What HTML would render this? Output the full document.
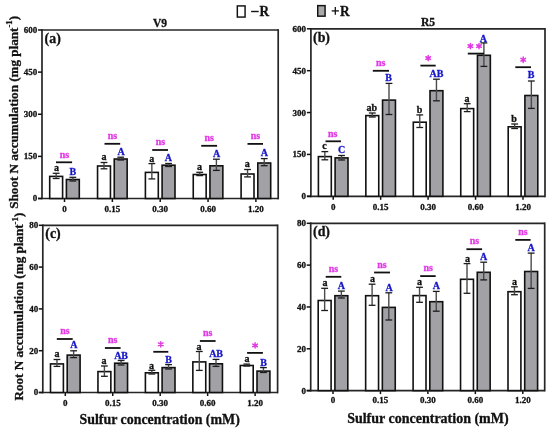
<!DOCTYPE html>
<html><head><meta charset="utf-8"><style>
html,body{margin:0;padding:0;background:#fff;width:550px;height:429px;overflow:hidden}
#w{width:550px;height:429px} svg{display:block;will-change:transform;font-family:"Liberation Serif", serif;font-weight:bold} text{stroke-width:0.3px}
</style></head><body><div id="w">
<svg width="550" height="429" viewBox="0 0 550 429">
<rect width="550" height="429" fill="#fff"/>
<g>
<line x1="42.00" y1="30.00" x2="278.20" y2="30.00" stroke="#262626" stroke-width="1.7"/>
<line x1="278.20" y1="29.15" x2="278.20" y2="199.35" stroke="#262626" stroke-width="1.7"/>
<line x1="42.00" y1="29.15" x2="42.00" y2="199.35" stroke="#262626" stroke-width="1.7"/>
<line x1="38.00" y1="198.50" x2="278.20" y2="198.50" stroke="#262626" stroke-width="1.7"/>
<line x1="38.00" y1="198.50" x2="42.00" y2="198.50" stroke="#111" stroke-width="1.5"/>
<text x="37.20" y="201.45" font-size="9" fill="#111" stroke="#111" text-anchor="end" >0</text>
<line x1="38.00" y1="156.38" x2="42.00" y2="156.38" stroke="#111" stroke-width="1.5"/>
<text x="37.20" y="159.32" font-size="9" fill="#111" stroke="#111" text-anchor="end" >150</text>
<line x1="38.00" y1="114.25" x2="42.00" y2="114.25" stroke="#111" stroke-width="1.5"/>
<text x="37.20" y="117.20" font-size="9" fill="#111" stroke="#111" text-anchor="end" >300</text>
<line x1="38.00" y1="72.12" x2="42.00" y2="72.12" stroke="#111" stroke-width="1.5"/>
<text x="37.20" y="75.07" font-size="9" fill="#111" stroke="#111" text-anchor="end" >450</text>
<line x1="38.00" y1="30.00" x2="42.00" y2="30.00" stroke="#111" stroke-width="1.5"/>
<text x="37.20" y="32.95" font-size="9" fill="#111" stroke="#111" text-anchor="end" >600</text>
<text x="44.60" y="42.80" font-size="13.9" fill="#111" stroke="#111" text-anchor="start" >(a)</text>
<line x1="64.50" y1="198.50" x2="64.50" y2="202.00" stroke="#111" stroke-width="1.5"/>
<text x="64.50" y="212.15" font-size="9" fill="#111" stroke="#111" text-anchor="middle" >0</text>
<rect x="49.70" y="176.40" width="12.90" height="22.10" fill="#fff" stroke="#111" stroke-width="1.6"/>
<rect x="66.40" y="179.50" width="12.90" height="19.00" fill="#a1a1a6" stroke="#111" stroke-width="1.6"/>
<line x1="56.15" y1="173.30" x2="56.15" y2="178.50" stroke="#4a4a4a" stroke-width="1.4"/>
<line x1="52.75" y1="173.30" x2="59.55" y2="173.30" stroke="#1c1c1c" stroke-width="1.3"/>
<line x1="52.75" y1="178.50" x2="59.55" y2="178.50" stroke="#1c1c1c" stroke-width="1.3"/>
<line x1="72.85" y1="177.30" x2="72.85" y2="181.00" stroke="#4a4a4a" stroke-width="1.4"/>
<line x1="69.45" y1="177.30" x2="76.25" y2="177.30" stroke="#1c1c1c" stroke-width="1.3"/>
<line x1="69.45" y1="181.00" x2="76.25" y2="181.00" stroke="#1c1c1c" stroke-width="1.3"/>
<text x="56.40" y="171.19" font-size="10.0" fill="#111" stroke="#111" text-anchor="middle" >a</text>
<text x="72.90" y="175.18" font-size="10.0" fill="#1515c8" stroke="#1515c8" text-anchor="middle" >B</text>
<line x1="56.00" y1="162.30" x2="72.10" y2="162.30" stroke="#111" stroke-width="1.8"/>
<text x="64.50" y="157.59" font-size="10.0" fill="#e03ae4" stroke="#e03ae4" text-anchor="middle" >ns</text>
<line x1="112.35" y1="198.50" x2="112.35" y2="202.00" stroke="#111" stroke-width="1.5"/>
<text x="112.35" y="212.15" font-size="9" fill="#111" stroke="#111" text-anchor="middle" >0.15</text>
<rect x="97.55" y="166.00" width="12.90" height="32.50" fill="#fff" stroke="#111" stroke-width="1.6"/>
<rect x="114.25" y="159.00" width="12.90" height="39.50" fill="#a1a1a6" stroke="#111" stroke-width="1.6"/>
<line x1="104.00" y1="162.50" x2="104.00" y2="168.80" stroke="#4a4a4a" stroke-width="1.4"/>
<line x1="100.60" y1="162.50" x2="107.40" y2="162.50" stroke="#1c1c1c" stroke-width="1.3"/>
<line x1="100.60" y1="168.80" x2="107.40" y2="168.80" stroke="#1c1c1c" stroke-width="1.3"/>
<line x1="120.70" y1="157.20" x2="120.70" y2="160.00" stroke="#4a4a4a" stroke-width="1.4"/>
<line x1="117.30" y1="157.20" x2="124.10" y2="157.20" stroke="#1c1c1c" stroke-width="1.3"/>
<line x1="117.30" y1="160.00" x2="124.10" y2="160.00" stroke="#1c1c1c" stroke-width="1.3"/>
<text x="104.00" y="160.29" font-size="10.0" fill="#111" stroke="#111" text-anchor="middle" >a</text>
<text x="121.00" y="154.97" font-size="10.0" fill="#1515c8" stroke="#1515c8" text-anchor="middle" >A</text>
<line x1="104.50" y1="143.80" x2="120.20" y2="143.80" stroke="#111" stroke-width="1.8"/>
<text x="112.40" y="139.09" font-size="10.0" fill="#e03ae4" stroke="#e03ae4" text-anchor="middle" >ns</text>
<line x1="160.20" y1="198.50" x2="160.20" y2="202.00" stroke="#111" stroke-width="1.5"/>
<text x="160.20" y="212.15" font-size="9" fill="#111" stroke="#111" text-anchor="middle" >0.30</text>
<rect x="145.40" y="172.40" width="12.90" height="26.10" fill="#fff" stroke="#111" stroke-width="1.6"/>
<rect x="162.10" y="165.20" width="12.90" height="33.30" fill="#a1a1a6" stroke="#111" stroke-width="1.6"/>
<line x1="151.85" y1="163.60" x2="151.85" y2="178.90" stroke="#4a4a4a" stroke-width="1.4"/>
<line x1="148.45" y1="163.60" x2="155.25" y2="163.60" stroke="#1c1c1c" stroke-width="1.3"/>
<line x1="148.45" y1="178.90" x2="155.25" y2="178.90" stroke="#1c1c1c" stroke-width="1.3"/>
<line x1="168.55" y1="163.50" x2="168.55" y2="166.50" stroke="#4a4a4a" stroke-width="1.4"/>
<line x1="165.15" y1="163.50" x2="171.95" y2="163.50" stroke="#1c1c1c" stroke-width="1.3"/>
<line x1="165.15" y1="166.50" x2="171.95" y2="166.50" stroke="#1c1c1c" stroke-width="1.3"/>
<text x="151.70" y="162.19" font-size="10.0" fill="#111" stroke="#111" text-anchor="middle" >a</text>
<text x="168.40" y="161.38" font-size="10.0" fill="#1515c8" stroke="#1515c8" text-anchor="middle" >A</text>
<line x1="152.20" y1="150.00" x2="168.00" y2="150.00" stroke="#111" stroke-width="1.8"/>
<text x="160.40" y="145.29" font-size="10.0" fill="#e03ae4" stroke="#e03ae4" text-anchor="middle" >ns</text>
<line x1="208.05" y1="198.50" x2="208.05" y2="202.00" stroke="#111" stroke-width="1.5"/>
<text x="208.05" y="212.15" font-size="9" fill="#111" stroke="#111" text-anchor="middle" >0.60</text>
<rect x="193.25" y="174.50" width="12.90" height="24.00" fill="#fff" stroke="#111" stroke-width="1.6"/>
<rect x="209.95" y="165.80" width="12.90" height="32.70" fill="#a1a1a6" stroke="#111" stroke-width="1.6"/>
<line x1="199.70" y1="172.30" x2="199.70" y2="175.60" stroke="#4a4a4a" stroke-width="1.4"/>
<line x1="196.30" y1="172.30" x2="203.10" y2="172.30" stroke="#1c1c1c" stroke-width="1.3"/>
<line x1="196.30" y1="175.60" x2="203.10" y2="175.60" stroke="#1c1c1c" stroke-width="1.3"/>
<line x1="216.40" y1="159.20" x2="216.40" y2="170.40" stroke="#4a4a4a" stroke-width="1.4"/>
<line x1="213.00" y1="159.20" x2="219.80" y2="159.20" stroke="#1c1c1c" stroke-width="1.3"/>
<line x1="213.00" y1="170.40" x2="219.80" y2="170.40" stroke="#1c1c1c" stroke-width="1.3"/>
<text x="199.50" y="169.69" font-size="10.0" fill="#111" stroke="#111" text-anchor="middle" >a</text>
<text x="216.50" y="157.47" font-size="10.0" fill="#1515c8" stroke="#1515c8" text-anchor="middle" >A</text>
<line x1="201.20" y1="145.80" x2="217.10" y2="145.80" stroke="#111" stroke-width="1.8"/>
<text x="209.30" y="141.09" font-size="10.0" fill="#e03ae4" stroke="#e03ae4" text-anchor="middle" >ns</text>
<line x1="255.90" y1="198.50" x2="255.90" y2="202.00" stroke="#111" stroke-width="1.5"/>
<text x="255.90" y="212.15" font-size="9" fill="#111" stroke="#111" text-anchor="middle" >1.20</text>
<rect x="241.10" y="174.00" width="12.90" height="24.50" fill="#fff" stroke="#111" stroke-width="1.6"/>
<rect x="257.80" y="163.00" width="12.90" height="35.50" fill="#a1a1a6" stroke="#111" stroke-width="1.6"/>
<line x1="247.55" y1="169.50" x2="247.55" y2="176.90" stroke="#4a4a4a" stroke-width="1.4"/>
<line x1="244.15" y1="169.50" x2="250.95" y2="169.50" stroke="#1c1c1c" stroke-width="1.3"/>
<line x1="244.15" y1="176.90" x2="250.95" y2="176.90" stroke="#1c1c1c" stroke-width="1.3"/>
<line x1="264.25" y1="158.60" x2="264.25" y2="165.70" stroke="#4a4a4a" stroke-width="1.4"/>
<line x1="260.85" y1="158.60" x2="267.65" y2="158.60" stroke="#1c1c1c" stroke-width="1.3"/>
<line x1="260.85" y1="165.70" x2="267.65" y2="165.70" stroke="#1c1c1c" stroke-width="1.3"/>
<text x="247.30" y="167.19" font-size="10.0" fill="#111" stroke="#111" text-anchor="middle" >a</text>
<text x="264.30" y="155.97" font-size="10.0" fill="#1515c8" stroke="#1515c8" text-anchor="middle" >A</text>
<line x1="247.50" y1="143.90" x2="263.00" y2="143.90" stroke="#111" stroke-width="1.8"/>
<text x="255.50" y="139.19" font-size="10.0" fill="#e03ae4" stroke="#e03ae4" text-anchor="middle" >ns</text>
<line x1="310.90" y1="28.80" x2="545.00" y2="28.80" stroke="#262626" stroke-width="1.7"/>
<line x1="545.00" y1="27.95" x2="545.00" y2="197.15" stroke="#262626" stroke-width="1.7"/>
<line x1="310.90" y1="27.95" x2="310.90" y2="197.15" stroke="#262626" stroke-width="1.7"/>
<line x1="306.90" y1="196.30" x2="545.00" y2="196.30" stroke="#262626" stroke-width="1.7"/>
<line x1="306.90" y1="196.30" x2="310.90" y2="196.30" stroke="#111" stroke-width="1.5"/>
<text x="305.90" y="199.25" font-size="9" fill="#111" stroke="#111" text-anchor="end" >0</text>
<line x1="306.90" y1="154.43" x2="310.90" y2="154.43" stroke="#111" stroke-width="1.5"/>
<text x="305.90" y="157.37" font-size="9" fill="#111" stroke="#111" text-anchor="end" >150</text>
<line x1="306.90" y1="112.55" x2="310.90" y2="112.55" stroke="#111" stroke-width="1.5"/>
<text x="305.90" y="115.50" font-size="9" fill="#111" stroke="#111" text-anchor="end" >300</text>
<line x1="306.90" y1="70.68" x2="310.90" y2="70.68" stroke="#111" stroke-width="1.5"/>
<text x="305.90" y="73.62" font-size="9" fill="#111" stroke="#111" text-anchor="end" >450</text>
<line x1="306.90" y1="28.80" x2="310.90" y2="28.80" stroke="#111" stroke-width="1.5"/>
<text x="305.90" y="31.75" font-size="9" fill="#111" stroke="#111" text-anchor="end" >600</text>
<text x="313.00" y="41.70" font-size="13.9" fill="#111" stroke="#111" text-anchor="start" >(b)</text>
<line x1="333.20" y1="196.30" x2="333.20" y2="199.80" stroke="#111" stroke-width="1.5"/>
<text x="333.20" y="209.85" font-size="9" fill="#111" stroke="#111" text-anchor="middle" >0</text>
<rect x="318.40" y="156.60" width="12.90" height="39.70" fill="#fff" stroke="#111" stroke-width="1.6"/>
<rect x="335.10" y="157.90" width="12.90" height="38.40" fill="#a1a1a6" stroke="#111" stroke-width="1.6"/>
<line x1="324.85" y1="151.60" x2="324.85" y2="159.80" stroke="#4a4a4a" stroke-width="1.4"/>
<line x1="321.45" y1="151.60" x2="328.25" y2="151.60" stroke="#1c1c1c" stroke-width="1.3"/>
<line x1="321.45" y1="159.80" x2="328.25" y2="159.80" stroke="#1c1c1c" stroke-width="1.3"/>
<line x1="341.55" y1="155.50" x2="341.55" y2="160.00" stroke="#4a4a4a" stroke-width="1.4"/>
<line x1="338.15" y1="155.50" x2="344.95" y2="155.50" stroke="#1c1c1c" stroke-width="1.3"/>
<line x1="338.15" y1="160.00" x2="344.95" y2="160.00" stroke="#1c1c1c" stroke-width="1.3"/>
<text x="324.50" y="149.49" font-size="10.0" fill="#111" stroke="#111" text-anchor="middle" >c</text>
<text x="341.50" y="153.18" font-size="10.0" fill="#1515c8" stroke="#1515c8" text-anchor="middle" >C</text>
<line x1="325.50" y1="141.30" x2="341.00" y2="141.30" stroke="#111" stroke-width="1.8"/>
<text x="332.70" y="136.59" font-size="10.0" fill="#e03ae4" stroke="#e03ae4" text-anchor="middle" >ns</text>
<line x1="380.65" y1="196.30" x2="380.65" y2="199.80" stroke="#111" stroke-width="1.5"/>
<text x="380.65" y="209.85" font-size="9" fill="#111" stroke="#111" text-anchor="middle" >0.15</text>
<rect x="365.85" y="115.60" width="12.90" height="80.70" fill="#fff" stroke="#111" stroke-width="1.6"/>
<rect x="382.55" y="100.10" width="12.90" height="96.20" fill="#a1a1a6" stroke="#111" stroke-width="1.6"/>
<line x1="372.30" y1="113.00" x2="372.30" y2="117.00" stroke="#4a4a4a" stroke-width="1.4"/>
<line x1="368.90" y1="113.00" x2="375.70" y2="113.00" stroke="#1c1c1c" stroke-width="1.3"/>
<line x1="368.90" y1="117.00" x2="375.70" y2="117.00" stroke="#1c1c1c" stroke-width="1.3"/>
<line x1="389.00" y1="83.40" x2="389.00" y2="114.50" stroke="#4a4a4a" stroke-width="1.4"/>
<line x1="385.60" y1="83.40" x2="392.40" y2="83.40" stroke="#1c1c1c" stroke-width="1.3"/>
<line x1="385.60" y1="114.50" x2="392.40" y2="114.50" stroke="#1c1c1c" stroke-width="1.3"/>
<text x="371.80" y="111.20" font-size="10.0" fill="#111" stroke="#111" text-anchor="middle" >ab</text>
<text x="388.60" y="81.08" font-size="10.0" fill="#1515c8" stroke="#1515c8" text-anchor="middle" >B</text>
<line x1="372.80" y1="70.80" x2="389.00" y2="70.80" stroke="#111" stroke-width="1.8"/>
<text x="380.80" y="66.09" font-size="10.0" fill="#e03ae4" stroke="#e03ae4" text-anchor="middle" >ns</text>
<line x1="428.10" y1="196.30" x2="428.10" y2="199.80" stroke="#111" stroke-width="1.5"/>
<text x="428.10" y="209.85" font-size="9" fill="#111" stroke="#111" text-anchor="middle" >0.30</text>
<rect x="413.30" y="122.20" width="12.90" height="74.10" fill="#fff" stroke="#111" stroke-width="1.6"/>
<rect x="430.00" y="90.70" width="12.90" height="105.60" fill="#a1a1a6" stroke="#111" stroke-width="1.6"/>
<line x1="419.75" y1="114.90" x2="419.75" y2="127.50" stroke="#4a4a4a" stroke-width="1.4"/>
<line x1="416.35" y1="114.90" x2="423.15" y2="114.90" stroke="#1c1c1c" stroke-width="1.3"/>
<line x1="416.35" y1="127.50" x2="423.15" y2="127.50" stroke="#1c1c1c" stroke-width="1.3"/>
<line x1="436.45" y1="79.20" x2="436.45" y2="100.80" stroke="#4a4a4a" stroke-width="1.4"/>
<line x1="433.05" y1="79.20" x2="439.85" y2="79.20" stroke="#1c1c1c" stroke-width="1.3"/>
<line x1="433.05" y1="100.80" x2="439.85" y2="100.80" stroke="#1c1c1c" stroke-width="1.3"/>
<text x="419.60" y="113.18" font-size="10.0" fill="#111" stroke="#111" text-anchor="middle" >b</text>
<text x="436.40" y="77.28" font-size="10.0" fill="#1515c8" stroke="#1515c8" text-anchor="middle" >AB</text>
<line x1="420.40" y1="65.60" x2="435.70" y2="65.60" stroke="#111" stroke-width="1.8"/>
<path d="M428.20 55.40L428.20 60.80M425.86 56.75L430.54 59.45M430.54 56.75L425.86 59.45" stroke="#e03ae4" stroke-width="1.45" stroke-linecap="round" fill="none"/>
<line x1="475.55" y1="196.30" x2="475.55" y2="199.80" stroke="#111" stroke-width="1.5"/>
<text x="475.55" y="209.85" font-size="9" fill="#111" stroke="#111" text-anchor="middle" >0.60</text>
<rect x="460.75" y="108.60" width="12.90" height="87.70" fill="#fff" stroke="#111" stroke-width="1.6"/>
<rect x="477.45" y="55.30" width="12.90" height="141.00" fill="#a1a1a6" stroke="#111" stroke-width="1.6"/>
<line x1="467.20" y1="103.70" x2="467.20" y2="111.60" stroke="#4a4a4a" stroke-width="1.4"/>
<line x1="463.80" y1="103.70" x2="470.60" y2="103.70" stroke="#1c1c1c" stroke-width="1.3"/>
<line x1="463.80" y1="111.60" x2="470.60" y2="111.60" stroke="#1c1c1c" stroke-width="1.3"/>
<line x1="483.90" y1="42.90" x2="483.90" y2="66.40" stroke="#4a4a4a" stroke-width="1.4"/>
<line x1="480.50" y1="42.90" x2="487.30" y2="42.90" stroke="#1c1c1c" stroke-width="1.3"/>
<line x1="480.50" y1="66.40" x2="487.30" y2="66.40" stroke="#1c1c1c" stroke-width="1.3"/>
<text x="467.00" y="101.50" font-size="10.0" fill="#111" stroke="#111" text-anchor="middle" >a</text>
<text x="483.40" y="41.67" font-size="10.0" fill="#1515c8" stroke="#1515c8" text-anchor="middle" >A</text>
<line x1="467.80" y1="53.60" x2="484.00" y2="53.60" stroke="#111" stroke-width="1.8"/>
<path d="M470.40 43.40L470.40 48.80M468.06 44.75L472.74 47.45M472.74 44.75L468.06 47.45" stroke="#e03ae4" stroke-width="1.45" stroke-linecap="round" fill="none"/>
<path d="M479.00 43.40L479.00 48.80M476.66 44.75L481.34 47.45M481.34 44.75L476.66 47.45" stroke="#e03ae4" stroke-width="1.45" stroke-linecap="round" fill="none"/>
<line x1="523.00" y1="196.30" x2="523.00" y2="199.80" stroke="#111" stroke-width="1.5"/>
<text x="523.00" y="209.85" font-size="9" fill="#111" stroke="#111" text-anchor="middle" >1.20</text>
<rect x="508.20" y="126.80" width="12.90" height="69.50" fill="#fff" stroke="#111" stroke-width="1.6"/>
<rect x="524.90" y="95.50" width="12.90" height="100.80" fill="#a1a1a6" stroke="#111" stroke-width="1.6"/>
<line x1="514.65" y1="124.00" x2="514.65" y2="128.50" stroke="#4a4a4a" stroke-width="1.4"/>
<line x1="511.25" y1="124.00" x2="518.05" y2="124.00" stroke="#1c1c1c" stroke-width="1.3"/>
<line x1="511.25" y1="128.50" x2="518.05" y2="128.50" stroke="#1c1c1c" stroke-width="1.3"/>
<line x1="531.35" y1="81.00" x2="531.35" y2="108.40" stroke="#4a4a4a" stroke-width="1.4"/>
<line x1="527.95" y1="81.00" x2="534.75" y2="81.00" stroke="#1c1c1c" stroke-width="1.3"/>
<line x1="527.95" y1="108.40" x2="534.75" y2="108.40" stroke="#1c1c1c" stroke-width="1.3"/>
<text x="514.00" y="121.98" font-size="10.0" fill="#111" stroke="#111" text-anchor="middle" >b</text>
<text x="531.00" y="78.28" font-size="10.0" fill="#1515c8" stroke="#1515c8" text-anchor="middle" >B</text>
<line x1="515.30" y1="67.20" x2="531.00" y2="67.20" stroke="#111" stroke-width="1.8"/>
<path d="M523.20 57.00L523.20 62.40M520.86 58.35L525.54 61.05M525.54 58.35L520.86 61.05" stroke="#e03ae4" stroke-width="1.45" stroke-linecap="round" fill="none"/>
<line x1="42.80" y1="225.30" x2="277.60" y2="225.30" stroke="#262626" stroke-width="1.7"/>
<line x1="277.60" y1="224.45" x2="277.60" y2="393.35" stroke="#262626" stroke-width="1.7"/>
<line x1="42.80" y1="224.45" x2="42.80" y2="393.35" stroke="#262626" stroke-width="1.7"/>
<line x1="38.80" y1="392.50" x2="277.60" y2="392.50" stroke="#262626" stroke-width="1.7"/>
<line x1="38.80" y1="392.50" x2="42.80" y2="392.50" stroke="#111" stroke-width="1.5"/>
<text x="38.20" y="395.45" font-size="9" fill="#111" stroke="#111" text-anchor="end" >0</text>
<line x1="38.80" y1="350.70" x2="42.80" y2="350.70" stroke="#111" stroke-width="1.5"/>
<text x="38.20" y="353.65" font-size="9" fill="#111" stroke="#111" text-anchor="end" >20</text>
<line x1="38.80" y1="308.90" x2="42.80" y2="308.90" stroke="#111" stroke-width="1.5"/>
<text x="38.20" y="311.85" font-size="9" fill="#111" stroke="#111" text-anchor="end" >40</text>
<line x1="38.80" y1="267.10" x2="42.80" y2="267.10" stroke="#111" stroke-width="1.5"/>
<text x="38.20" y="270.05" font-size="9" fill="#111" stroke="#111" text-anchor="end" >60</text>
<line x1="38.80" y1="225.30" x2="42.80" y2="225.30" stroke="#111" stroke-width="1.5"/>
<text x="38.20" y="228.25" font-size="9" fill="#111" stroke="#111" text-anchor="end" >80</text>
<text x="45.30" y="237.80" font-size="13.9" fill="#111" stroke="#111" text-anchor="start" >(c)</text>
<line x1="65.30" y1="392.50" x2="65.30" y2="396.00" stroke="#111" stroke-width="1.5"/>
<text x="65.30" y="406.25" font-size="9" fill="#111" stroke="#111" text-anchor="middle" >0</text>
<rect x="50.50" y="363.90" width="12.90" height="28.60" fill="#fff" stroke="#111" stroke-width="1.6"/>
<rect x="67.20" y="355.10" width="12.90" height="37.40" fill="#a1a1a6" stroke="#111" stroke-width="1.6"/>
<line x1="56.95" y1="359.50" x2="56.95" y2="366.40" stroke="#4a4a4a" stroke-width="1.4"/>
<line x1="53.55" y1="359.50" x2="60.35" y2="359.50" stroke="#1c1c1c" stroke-width="1.3"/>
<line x1="53.55" y1="366.40" x2="60.35" y2="366.40" stroke="#1c1c1c" stroke-width="1.3"/>
<line x1="73.65" y1="350.80" x2="73.65" y2="357.60" stroke="#4a4a4a" stroke-width="1.4"/>
<line x1="70.25" y1="350.80" x2="77.05" y2="350.80" stroke="#1c1c1c" stroke-width="1.3"/>
<line x1="70.25" y1="357.60" x2="77.05" y2="357.60" stroke="#1c1c1c" stroke-width="1.3"/>
<text x="57.10" y="357.00" font-size="10.0" fill="#111" stroke="#111" text-anchor="middle" >a</text>
<text x="73.80" y="348.27" font-size="10.0" fill="#1515c8" stroke="#1515c8" text-anchor="middle" >A</text>
<line x1="56.80" y1="339.00" x2="72.70" y2="339.00" stroke="#111" stroke-width="1.8"/>
<text x="65.00" y="334.30" font-size="10.0" fill="#e03ae4" stroke="#e03ae4" text-anchor="middle" >ns</text>
<line x1="112.75" y1="392.50" x2="112.75" y2="396.00" stroke="#111" stroke-width="1.5"/>
<text x="112.75" y="406.25" font-size="9" fill="#111" stroke="#111" text-anchor="middle" >0.15</text>
<rect x="97.95" y="371.60" width="12.90" height="20.90" fill="#fff" stroke="#111" stroke-width="1.6"/>
<rect x="114.65" y="363.20" width="12.90" height="29.30" fill="#a1a1a6" stroke="#111" stroke-width="1.6"/>
<line x1="104.40" y1="366.00" x2="104.40" y2="376.30" stroke="#4a4a4a" stroke-width="1.4"/>
<line x1="101.00" y1="366.00" x2="107.80" y2="366.00" stroke="#1c1c1c" stroke-width="1.3"/>
<line x1="101.00" y1="376.30" x2="107.80" y2="376.30" stroke="#1c1c1c" stroke-width="1.3"/>
<line x1="121.10" y1="360.50" x2="121.10" y2="365.00" stroke="#4a4a4a" stroke-width="1.4"/>
<line x1="117.70" y1="360.50" x2="124.50" y2="360.50" stroke="#1c1c1c" stroke-width="1.3"/>
<line x1="117.70" y1="365.00" x2="124.50" y2="365.00" stroke="#1c1c1c" stroke-width="1.3"/>
<text x="104.00" y="364.10" font-size="10.0" fill="#111" stroke="#111" text-anchor="middle" >a</text>
<text x="121.10" y="359.07" font-size="10.0" fill="#1515c8" stroke="#1515c8" text-anchor="middle" >AB</text>
<line x1="104.90" y1="348.00" x2="120.60" y2="348.00" stroke="#111" stroke-width="1.8"/>
<text x="112.70" y="343.30" font-size="10.0" fill="#e03ae4" stroke="#e03ae4" text-anchor="middle" >ns</text>
<line x1="160.20" y1="392.50" x2="160.20" y2="396.00" stroke="#111" stroke-width="1.5"/>
<text x="160.20" y="406.25" font-size="9" fill="#111" stroke="#111" text-anchor="middle" >0.30</text>
<rect x="145.40" y="372.80" width="12.90" height="19.70" fill="#fff" stroke="#111" stroke-width="1.6"/>
<rect x="162.10" y="367.60" width="12.90" height="24.90" fill="#a1a1a6" stroke="#111" stroke-width="1.6"/>
<line x1="151.85" y1="370.30" x2="151.85" y2="374.00" stroke="#4a4a4a" stroke-width="1.4"/>
<line x1="148.45" y1="370.30" x2="155.25" y2="370.30" stroke="#1c1c1c" stroke-width="1.3"/>
<line x1="148.45" y1="374.00" x2="155.25" y2="374.00" stroke="#1c1c1c" stroke-width="1.3"/>
<line x1="168.55" y1="364.60" x2="168.55" y2="369.00" stroke="#4a4a4a" stroke-width="1.4"/>
<line x1="165.15" y1="364.60" x2="171.95" y2="364.60" stroke="#1c1c1c" stroke-width="1.3"/>
<line x1="165.15" y1="369.00" x2="171.95" y2="369.00" stroke="#1c1c1c" stroke-width="1.3"/>
<text x="151.50" y="368.80" font-size="10.0" fill="#111" stroke="#111" text-anchor="middle" >a</text>
<text x="168.60" y="362.57" font-size="10.0" fill="#1515c8" stroke="#1515c8" text-anchor="middle" >B</text>
<line x1="153.30" y1="351.80" x2="168.30" y2="351.80" stroke="#111" stroke-width="1.8"/>
<path d="M160.80 341.60L160.80 347.00M158.46 342.95L163.14 345.65M163.14 342.95L158.46 345.65" stroke="#e03ae4" stroke-width="1.45" stroke-linecap="round" fill="none"/>
<line x1="207.65" y1="392.50" x2="207.65" y2="396.00" stroke="#111" stroke-width="1.5"/>
<text x="207.65" y="406.25" font-size="9" fill="#111" stroke="#111" text-anchor="middle" >0.60</text>
<rect x="192.85" y="361.90" width="12.90" height="30.60" fill="#fff" stroke="#111" stroke-width="1.6"/>
<rect x="209.55" y="363.80" width="12.90" height="28.70" fill="#a1a1a6" stroke="#111" stroke-width="1.6"/>
<line x1="199.30" y1="351.50" x2="199.30" y2="370.40" stroke="#4a4a4a" stroke-width="1.4"/>
<line x1="195.90" y1="351.50" x2="202.70" y2="351.50" stroke="#1c1c1c" stroke-width="1.3"/>
<line x1="195.90" y1="370.40" x2="202.70" y2="370.40" stroke="#1c1c1c" stroke-width="1.3"/>
<line x1="216.00" y1="359.40" x2="216.00" y2="366.40" stroke="#4a4a4a" stroke-width="1.4"/>
<line x1="212.60" y1="359.40" x2="219.40" y2="359.40" stroke="#1c1c1c" stroke-width="1.3"/>
<line x1="212.60" y1="366.40" x2="219.40" y2="366.40" stroke="#1c1c1c" stroke-width="1.3"/>
<text x="199.00" y="350.10" font-size="10.0" fill="#111" stroke="#111" text-anchor="middle" >a</text>
<text x="216.10" y="357.07" font-size="10.0" fill="#1515c8" stroke="#1515c8" text-anchor="middle" >AB</text>
<line x1="199.90" y1="341.00" x2="215.60" y2="341.00" stroke="#111" stroke-width="1.8"/>
<text x="207.70" y="336.30" font-size="10.0" fill="#e03ae4" stroke="#e03ae4" text-anchor="middle" >ns</text>
<line x1="255.10" y1="392.50" x2="255.10" y2="396.00" stroke="#111" stroke-width="1.5"/>
<text x="255.10" y="406.25" font-size="9" fill="#111" stroke="#111" text-anchor="middle" >1.20</text>
<rect x="240.30" y="365.50" width="12.90" height="27.00" fill="#fff" stroke="#111" stroke-width="1.6"/>
<rect x="257.00" y="371.10" width="12.90" height="21.40" fill="#a1a1a6" stroke="#111" stroke-width="1.6"/>
<line x1="246.75" y1="364.10" x2="246.75" y2="366.00" stroke="#4a4a4a" stroke-width="1.4"/>
<line x1="243.35" y1="364.10" x2="250.15" y2="364.10" stroke="#1c1c1c" stroke-width="1.3"/>
<line x1="243.35" y1="366.00" x2="250.15" y2="366.00" stroke="#1c1c1c" stroke-width="1.3"/>
<line x1="263.45" y1="367.60" x2="263.45" y2="372.50" stroke="#4a4a4a" stroke-width="1.4"/>
<line x1="260.05" y1="367.60" x2="266.85" y2="367.60" stroke="#1c1c1c" stroke-width="1.3"/>
<line x1="260.05" y1="372.50" x2="266.85" y2="372.50" stroke="#1c1c1c" stroke-width="1.3"/>
<text x="247.10" y="361.80" font-size="10.0" fill="#111" stroke="#111" text-anchor="middle" >a</text>
<text x="263.70" y="365.57" font-size="10.0" fill="#1515c8" stroke="#1515c8" text-anchor="middle" >B</text>
<line x1="247.10" y1="352.90" x2="262.90" y2="352.90" stroke="#111" stroke-width="1.8"/>
<path d="M255.10 342.70L255.10 348.10M252.76 344.05L257.44 346.75M257.44 344.05L252.76 346.75" stroke="#e03ae4" stroke-width="1.45" stroke-linecap="round" fill="none"/>
<line x1="310.70" y1="223.30" x2="544.70" y2="223.30" stroke="#262626" stroke-width="1.7"/>
<line x1="544.70" y1="222.45" x2="544.70" y2="391.45" stroke="#262626" stroke-width="1.7"/>
<line x1="310.70" y1="222.45" x2="310.70" y2="391.45" stroke="#262626" stroke-width="1.7"/>
<line x1="306.70" y1="390.60" x2="544.70" y2="390.60" stroke="#262626" stroke-width="1.7"/>
<line x1="306.70" y1="390.60" x2="310.70" y2="390.60" stroke="#111" stroke-width="1.5"/>
<text x="306.00" y="393.55" font-size="9" fill="#111" stroke="#111" text-anchor="end" >0</text>
<line x1="306.70" y1="348.78" x2="310.70" y2="348.78" stroke="#111" stroke-width="1.5"/>
<text x="306.00" y="351.72" font-size="9" fill="#111" stroke="#111" text-anchor="end" >20</text>
<line x1="306.70" y1="306.95" x2="310.70" y2="306.95" stroke="#111" stroke-width="1.5"/>
<text x="306.00" y="309.90" font-size="9" fill="#111" stroke="#111" text-anchor="end" >40</text>
<line x1="306.70" y1="265.12" x2="310.70" y2="265.12" stroke="#111" stroke-width="1.5"/>
<text x="306.00" y="268.07" font-size="9" fill="#111" stroke="#111" text-anchor="end" >60</text>
<line x1="306.70" y1="223.30" x2="310.70" y2="223.30" stroke="#111" stroke-width="1.5"/>
<text x="306.00" y="226.25" font-size="9" fill="#111" stroke="#111" text-anchor="end" >80</text>
<text x="313.00" y="236.10" font-size="13.9" fill="#111" stroke="#111" text-anchor="start" >(d)</text>
<line x1="333.00" y1="390.60" x2="333.00" y2="394.10" stroke="#111" stroke-width="1.5"/>
<text x="333.00" y="403.45" font-size="9" fill="#111" stroke="#111" text-anchor="middle" >0</text>
<rect x="318.20" y="300.50" width="12.90" height="90.10" fill="#fff" stroke="#111" stroke-width="1.6"/>
<rect x="334.90" y="295.70" width="12.90" height="94.90" fill="#a1a1a6" stroke="#111" stroke-width="1.6"/>
<line x1="324.65" y1="288.30" x2="324.65" y2="310.50" stroke="#4a4a4a" stroke-width="1.4"/>
<line x1="321.25" y1="288.30" x2="328.05" y2="288.30" stroke="#1c1c1c" stroke-width="1.3"/>
<line x1="321.25" y1="310.50" x2="328.05" y2="310.50" stroke="#1c1c1c" stroke-width="1.3"/>
<line x1="341.35" y1="291.10" x2="341.35" y2="298.00" stroke="#4a4a4a" stroke-width="1.4"/>
<line x1="337.95" y1="291.10" x2="344.75" y2="291.10" stroke="#1c1c1c" stroke-width="1.3"/>
<line x1="337.95" y1="298.00" x2="344.75" y2="298.00" stroke="#1c1c1c" stroke-width="1.3"/>
<text x="324.90" y="286.19" font-size="10.0" fill="#111" stroke="#111" text-anchor="middle" >a</text>
<text x="341.30" y="289.17" font-size="10.0" fill="#1515c8" stroke="#1515c8" text-anchor="middle" >A</text>
<line x1="325.70" y1="276.80" x2="341.30" y2="276.80" stroke="#111" stroke-width="1.8"/>
<text x="333.50" y="272.10" font-size="10.0" fill="#e03ae4" stroke="#e03ae4" text-anchor="middle" >ns</text>
<line x1="380.45" y1="390.60" x2="380.45" y2="394.10" stroke="#111" stroke-width="1.5"/>
<text x="380.45" y="403.45" font-size="9" fill="#111" stroke="#111" text-anchor="middle" >0.15</text>
<rect x="365.65" y="295.70" width="12.90" height="94.90" fill="#fff" stroke="#111" stroke-width="1.6"/>
<rect x="382.35" y="307.40" width="12.90" height="83.20" fill="#a1a1a6" stroke="#111" stroke-width="1.6"/>
<line x1="372.10" y1="284.20" x2="372.10" y2="305.30" stroke="#4a4a4a" stroke-width="1.4"/>
<line x1="368.70" y1="284.20" x2="375.50" y2="284.20" stroke="#1c1c1c" stroke-width="1.3"/>
<line x1="368.70" y1="305.30" x2="375.50" y2="305.30" stroke="#1c1c1c" stroke-width="1.3"/>
<line x1="388.80" y1="292.80" x2="388.80" y2="320.00" stroke="#4a4a4a" stroke-width="1.4"/>
<line x1="385.40" y1="292.80" x2="392.20" y2="292.80" stroke="#1c1c1c" stroke-width="1.3"/>
<line x1="385.40" y1="320.00" x2="392.20" y2="320.00" stroke="#1c1c1c" stroke-width="1.3"/>
<text x="372.40" y="282.39" font-size="10.0" fill="#111" stroke="#111" text-anchor="middle" >a</text>
<text x="389.10" y="290.97" font-size="10.0" fill="#1515c8" stroke="#1515c8" text-anchor="middle" >A</text>
<line x1="374.10" y1="272.50" x2="390.00" y2="272.50" stroke="#111" stroke-width="1.8"/>
<text x="381.90" y="267.80" font-size="10.0" fill="#e03ae4" stroke="#e03ae4" text-anchor="middle" >ns</text>
<line x1="427.90" y1="390.60" x2="427.90" y2="394.10" stroke="#111" stroke-width="1.5"/>
<text x="427.90" y="403.45" font-size="9" fill="#111" stroke="#111" text-anchor="middle" >0.30</text>
<rect x="413.10" y="295.60" width="12.90" height="95.00" fill="#fff" stroke="#111" stroke-width="1.6"/>
<rect x="429.80" y="301.70" width="12.90" height="88.90" fill="#a1a1a6" stroke="#111" stroke-width="1.6"/>
<line x1="419.55" y1="287.30" x2="419.55" y2="302.30" stroke="#4a4a4a" stroke-width="1.4"/>
<line x1="416.15" y1="287.30" x2="422.95" y2="287.30" stroke="#1c1c1c" stroke-width="1.3"/>
<line x1="416.15" y1="302.30" x2="422.95" y2="302.30" stroke="#1c1c1c" stroke-width="1.3"/>
<line x1="436.25" y1="291.40" x2="436.25" y2="311.20" stroke="#4a4a4a" stroke-width="1.4"/>
<line x1="432.85" y1="291.40" x2="439.65" y2="291.40" stroke="#1c1c1c" stroke-width="1.3"/>
<line x1="432.85" y1="311.20" x2="439.65" y2="311.20" stroke="#1c1c1c" stroke-width="1.3"/>
<text x="419.50" y="284.69" font-size="10.0" fill="#111" stroke="#111" text-anchor="middle" >a</text>
<text x="436.30" y="288.77" font-size="10.0" fill="#1515c8" stroke="#1515c8" text-anchor="middle" >A</text>
<line x1="420.20" y1="276.10" x2="435.70" y2="276.10" stroke="#111" stroke-width="1.8"/>
<text x="428.30" y="271.40" font-size="10.0" fill="#e03ae4" stroke="#e03ae4" text-anchor="middle" >ns</text>
<line x1="475.35" y1="390.60" x2="475.35" y2="394.10" stroke="#111" stroke-width="1.5"/>
<text x="475.35" y="403.45" font-size="9" fill="#111" stroke="#111" text-anchor="middle" >0.60</text>
<rect x="460.55" y="279.30" width="12.90" height="111.30" fill="#fff" stroke="#111" stroke-width="1.6"/>
<rect x="477.25" y="272.30" width="12.90" height="118.30" fill="#a1a1a6" stroke="#111" stroke-width="1.6"/>
<line x1="467.00" y1="263.60" x2="467.00" y2="293.30" stroke="#4a4a4a" stroke-width="1.4"/>
<line x1="463.60" y1="263.60" x2="470.40" y2="263.60" stroke="#1c1c1c" stroke-width="1.3"/>
<line x1="463.60" y1="293.30" x2="470.40" y2="293.30" stroke="#1c1c1c" stroke-width="1.3"/>
<line x1="483.70" y1="262.20" x2="483.70" y2="279.90" stroke="#4a4a4a" stroke-width="1.4"/>
<line x1="480.30" y1="262.20" x2="487.10" y2="262.20" stroke="#1c1c1c" stroke-width="1.3"/>
<line x1="480.30" y1="279.90" x2="487.10" y2="279.90" stroke="#1c1c1c" stroke-width="1.3"/>
<text x="467.40" y="262.10" font-size="10.0" fill="#111" stroke="#111" text-anchor="middle" >a</text>
<text x="483.70" y="260.38" font-size="10.0" fill="#1515c8" stroke="#1515c8" text-anchor="middle" >A</text>
<line x1="466.40" y1="249.20" x2="482.10" y2="249.20" stroke="#111" stroke-width="1.8"/>
<text x="474.40" y="244.49" font-size="10.0" fill="#e03ae4" stroke="#e03ae4" text-anchor="middle" >ns</text>
<line x1="522.80" y1="390.60" x2="522.80" y2="394.10" stroke="#111" stroke-width="1.5"/>
<text x="522.80" y="403.45" font-size="9" fill="#111" stroke="#111" text-anchor="middle" >1.20</text>
<rect x="508.00" y="291.70" width="12.90" height="98.90" fill="#fff" stroke="#111" stroke-width="1.6"/>
<rect x="524.70" y="271.50" width="12.90" height="119.10" fill="#a1a1a6" stroke="#111" stroke-width="1.6"/>
<line x1="514.45" y1="286.80" x2="514.45" y2="294.70" stroke="#4a4a4a" stroke-width="1.4"/>
<line x1="511.05" y1="286.80" x2="517.85" y2="286.80" stroke="#1c1c1c" stroke-width="1.3"/>
<line x1="511.05" y1="294.70" x2="517.85" y2="294.70" stroke="#1c1c1c" stroke-width="1.3"/>
<line x1="531.15" y1="253.10" x2="531.15" y2="288.40" stroke="#4a4a4a" stroke-width="1.4"/>
<line x1="527.75" y1="253.10" x2="534.55" y2="253.10" stroke="#1c1c1c" stroke-width="1.3"/>
<line x1="527.75" y1="288.40" x2="534.55" y2="288.40" stroke="#1c1c1c" stroke-width="1.3"/>
<text x="514.40" y="285.00" font-size="10.0" fill="#111" stroke="#111" text-anchor="middle" >a</text>
<text x="531.20" y="251.08" font-size="10.0" fill="#1515c8" stroke="#1515c8" text-anchor="middle" >A</text>
<line x1="515.30" y1="239.90" x2="530.60" y2="239.90" stroke="#111" stroke-width="1.8"/>
<text x="522.90" y="235.19" font-size="10.0" fill="#e03ae4" stroke="#e03ae4" text-anchor="middle" >ns</text>
<text x="160.05" y="26.50" font-size="11.6" fill="#111" stroke="#111" text-anchor="middle" >V9</text>
<text x="428.10" y="25.90" font-size="11.6" fill="#111" stroke="#111" text-anchor="middle" >R5</text>
<rect x="237.32" y="5.92" width="7.75" height="11.15" fill="#fff" stroke="#111" stroke-width="1.45"/>
<line x1="251.10" y1="11.50" x2="258.70" y2="11.50" stroke="#111" stroke-width="1.4"/>
<text transform="translate(259.5,16.1) scale(0.92,1)" font-size="14.5" fill="#111" stroke="#111">R</text>
<rect x="317.73" y="5.62" width="7.35" height="10.55" fill="#a9a9ab" stroke="#111" stroke-width="1.45"/>
<line x1="331.70" y1="10.90" x2="338.90" y2="10.90" stroke="#111" stroke-width="1.3"/>
<line x1="335.30" y1="7.10" x2="335.30" y2="14.80" stroke="#111" stroke-width="1.3"/>
<text transform="translate(339.9,15.7) scale(0.92,1)" font-size="14.5" fill="#111" stroke="#111">R</text>
<text x="159.70" y="424.00" font-size="13.9" fill="#111" stroke="#111" text-anchor="middle" >Sulfur concentration (mM)</text>
<text x="427.90" y="422.60" font-size="14.0" fill="#111" stroke="#111" text-anchor="middle" >Sulfur concentration (mM)</text>
<text transform="translate(17.7,112.3) rotate(-90)" font-size="13.1" text-anchor="middle" fill="#111" stroke="#111">Shoot N accumulation (mg plant<tspan font-size="8.8" dy="-5.5">-1</tspan><tspan dy="5.5">)</tspan></text>
<text transform="translate(23.1,306.6) rotate(-90)" font-size="13.1" text-anchor="middle" fill="#111" stroke="#111">Root N accumulation (mg plant<tspan font-size="8.8" dy="-5.5">-1</tspan><tspan dy="5.5">)</tspan></text>
</g>
</svg></div>
</body></html>
